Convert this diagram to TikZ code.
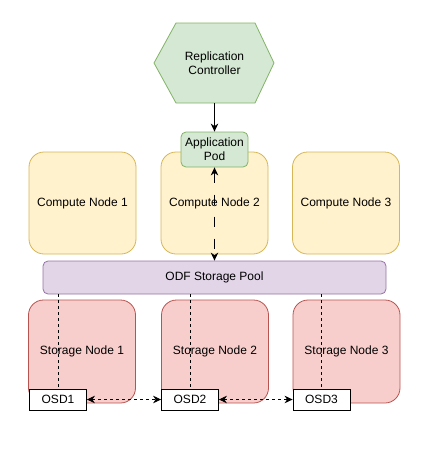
\documentclass[tikz,border=0pt]{standalone}
\usepackage{fontspec}
\setmainfont{Liberation Sans}
\usetikzlibrary{arrows.meta}
\definecolor{gfill}{HTML}{D5E8D4}
\definecolor{gline}{HTML}{82B366}
\definecolor{yfill}{HTML}{FFF2CC}
\definecolor{yline}{HTML}{D6B656}
\definecolor{pfill}{HTML}{E1D5E7}
\definecolor{pline}{HTML}{9673A6}
\definecolor{rfill}{HTML}{F8CECC}
\definecolor{rline}{HTML}{B85450}
\tikzset{
  base/.style={font=\fontsize{12}{14}\selectfont, align=center, inner sep=0pt, line width=0.8pt},
  compute/.style={base, draw=yline, fill=yfill, rounded corners=15pt, minimum width=107pt, minimum height=102pt},
  storage/.style={base, draw=rline, fill=rfill, rounded corners=15pt, minimum width=107pt, minimum height=103pt},
  pod/.style={base, draw=gline, fill=gfill, rounded corners=5pt, minimum width=67pt, minimum height=35pt},
  pool/.style={base, draw=pline, fill=pfill, rounded corners=5pt, minimum width=343pt, minimum height=33pt},
  osd/.style={base, draw=black, fill=white, minimum width=57pt, minimum height=21pt},
  solidarrow/.style={-{Stealth[length=8pt,width=7.5pt,inset=2.5pt]}, line width=0.9pt},
  longdash/.style={{Stealth[length=8pt,width=7.5pt,inset=2.5pt]}-{Stealth[length=8pt,width=7.5pt,inset=2.5pt]}, line width=0.9pt, dash pattern=on 10pt off 12pt},
  shortdash/.style={line width=0.8pt, dash pattern=on 3pt off 3pt},
  shortdasharrow/.style={{Stealth[length=8pt,width=7.5pt,inset=2.5pt]}-{Stealth[length=8pt,width=7.5pt,inset=2.5pt]}, line width=0.8pt, dash pattern=on 3pt off 3pt},
}
\begin{document}
\begin{tikzpicture}[x=1pt,y=-1pt]
\useasboundingbox (0,0) rectangle (440,464);
% hexagon
\draw[draw=gline, fill=gfill, line width=0.8pt] (176,23) -- (255,23) -- (274,63) -- (255,103) -- (176,103) -- (154,63) -- cycle;
\node[base, minimum width=120pt, minimum height=80pt] (rc) at (214.5,63) {Replication\\Controller};
% compute nodes
\node[compute] (c1) at (82.5,203) {Compute Node 1};
\node[compute] (c2) at (214.5,203) {Compute Node 2};
\node[compute] (c3) at (346,203) {Compute Node 3};
% pod
\node[pod] (pod) at (214.5,149.5) {Application\\Pod};
% pool
\node[pool] (pool) at (214.5,277.5) {ODF Storage Pool};
% storage nodes
\node[storage] (s1) at (82,351.5) {Storage Node 1};
\node[storage] (s2) at (215,351.5) {Storage Node 2};
\node[storage] (s3) at (346.5,351.5) {Storage Node 3};
% osd
\node[osd] (o1) at (58,399.5) {OSD1};
\node[osd] (o2) at (190,399.5) {OSD2};
\node[osd] (o3) at (321.5,399.5) {OSD3};
% connectors
\draw[solidarrow] (rc.south) -- (pod.north);
\draw[longdash] (pod.south) -- (pool.north -| pod.south);
\draw[shortdash] (pool.south -| o1.north) -- (o1.north);
\draw[shortdash] (pool.south -| o2.north) -- (o2.north);
\draw[shortdash] (pool.south -| o3.north) -- (o3.north);
\draw[shortdasharrow] (o1.east) -- (o2.west);
\draw[shortdasharrow] (o2.east) -- (o3.west);
\end{tikzpicture}
\end{document}
